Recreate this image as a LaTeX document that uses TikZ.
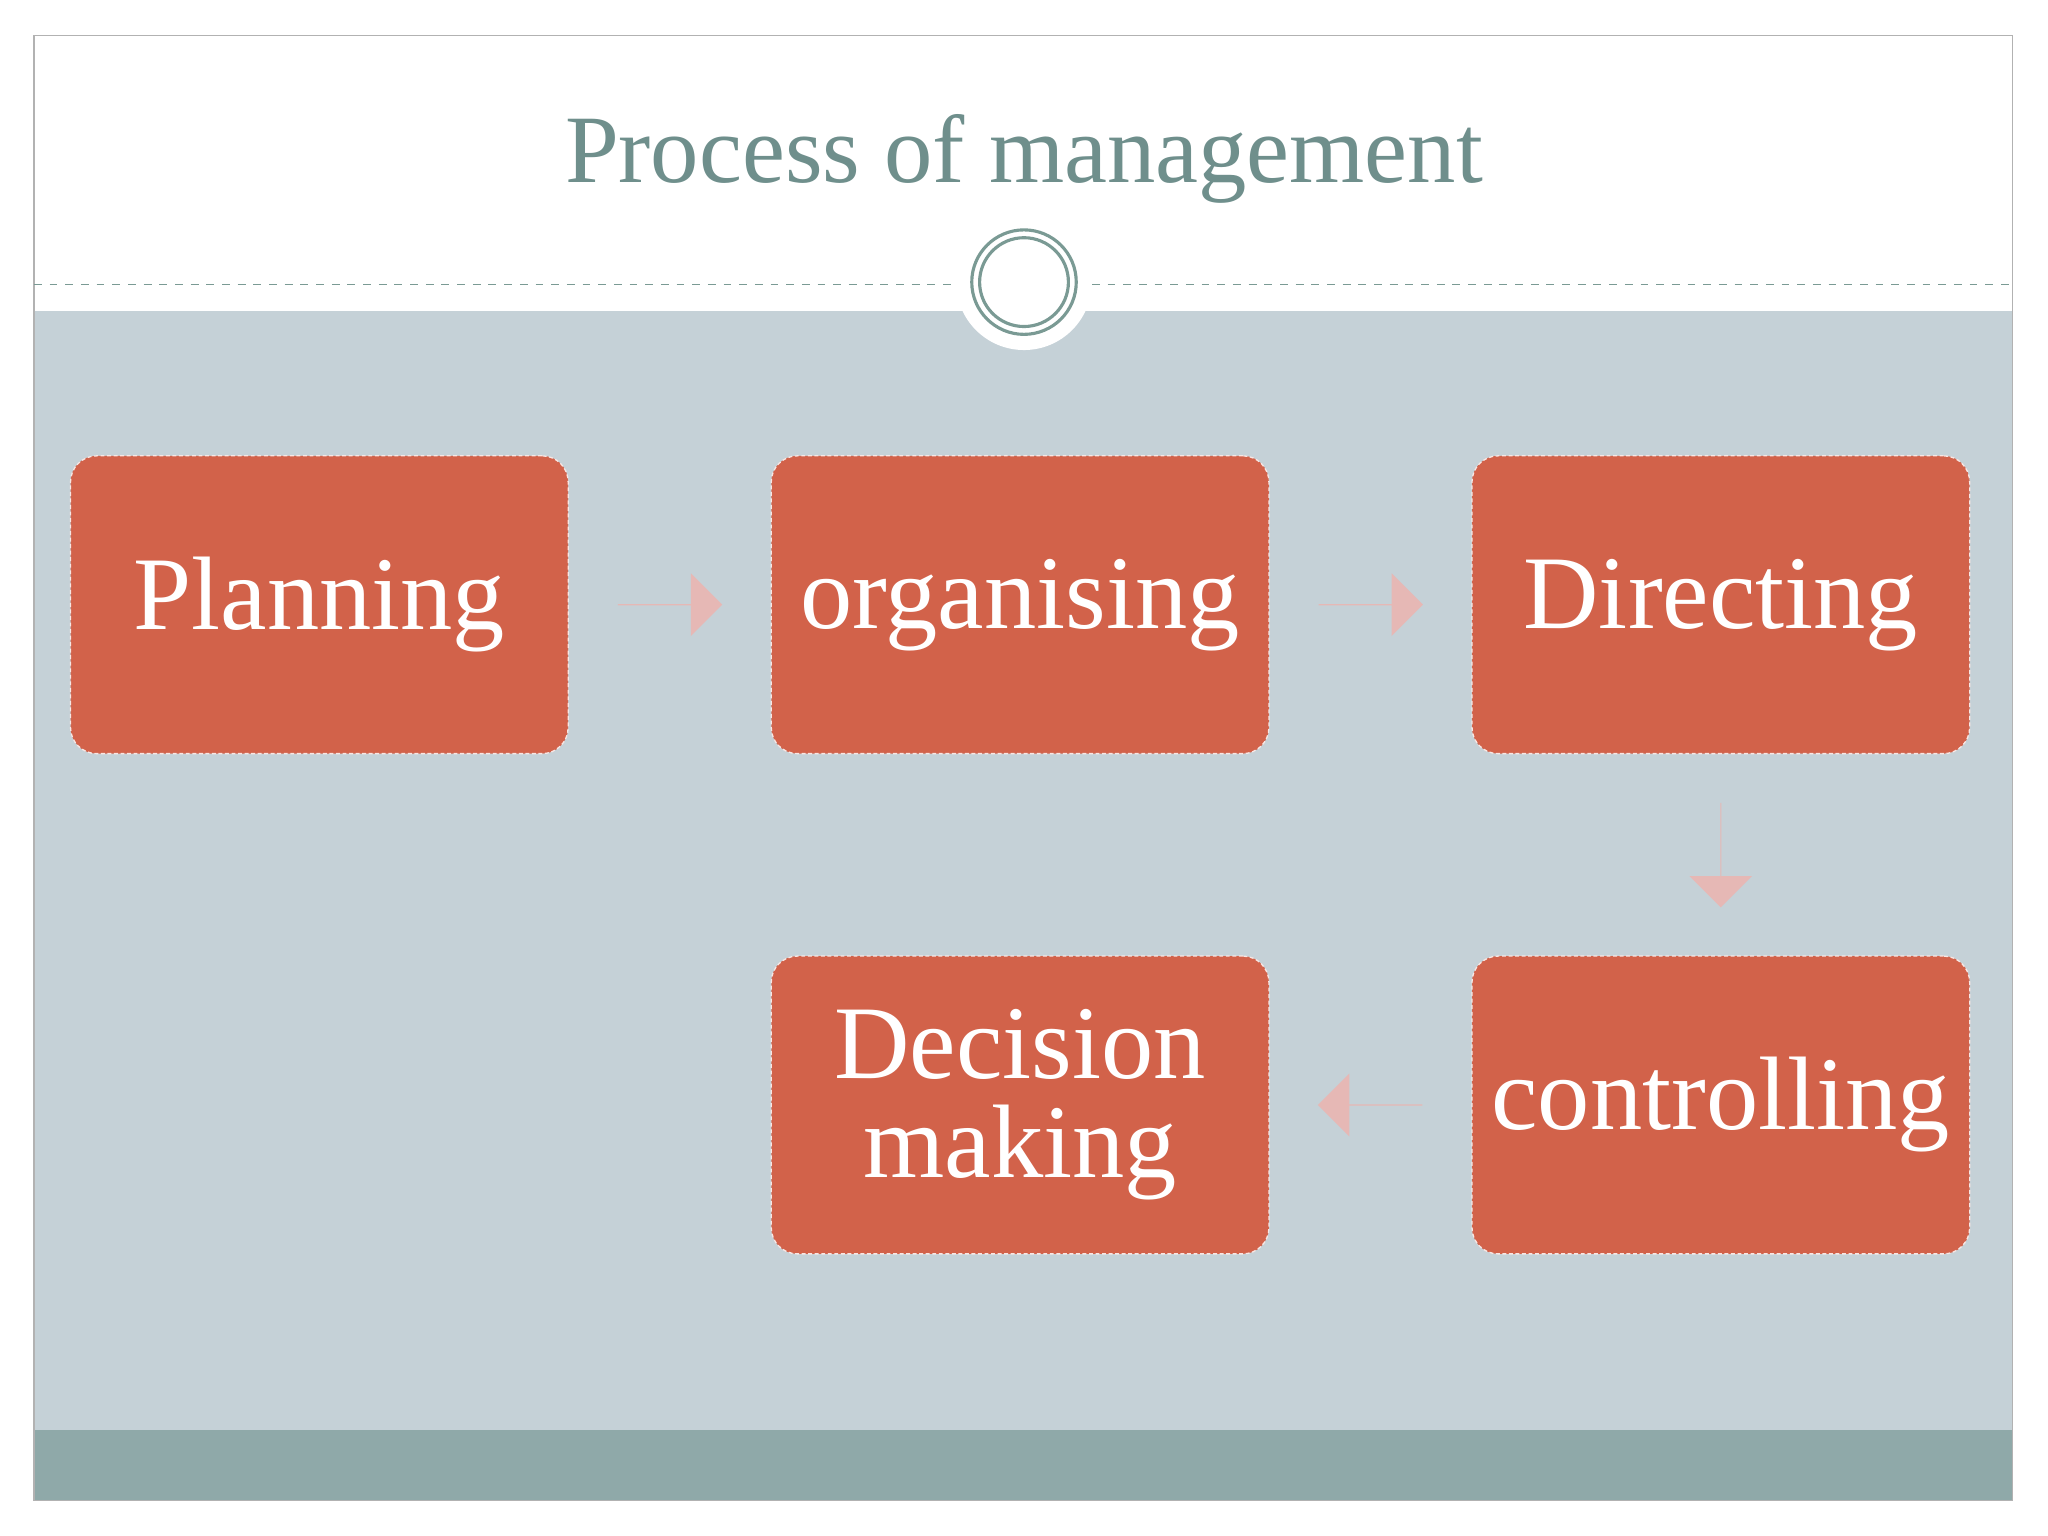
\documentclass[tikz,border=0pt]{standalone}
\usepackage{fontspec}
\setmainfont{Liberation Serif}
\usetikzlibrary{shapes.arrows,calc}
\definecolor{boxc}{HTML}{D2624A}
\definecolor{panel}{HTML}{C5D1D7}
\definecolor{bar}{HTML}{8FA9A9}
\definecolor{ring}{HTML}{7A9A94}
\definecolor{arr}{HTML}{E6B8B5}
\definecolor{titlec}{HTML}{6F8F8C}
\tikzset{
 stepbox/.style={draw=white!85!boxc, dashed, fill=boxc, rounded corners=10pt, minimum width=190.5pt, minimum height=114pt, text=white, font=\fontsize{40}{38}\selectfont, align=center, line width=0.5pt, dash pattern=on 1.5pt off 1pt},
 blk/.style={single arrow, fill=arr, draw=none, minimum height=40pt, minimum width=24pt, single arrow head extend=11pt, inner sep=0pt, single arrow tip angle=90}
}
\begin{document}
\begin{tikzpicture}[x=0.5pt,y=-0.5pt]
\useasboundingbox (0,0) rectangle (1568,1176);
\fill[white] (0,0) rectangle (1568,1176);
\fill[panel] (26,238) rectangle (1541,1095);
\fill[bar] (26,1095) rectangle (1541,1149);
\draw[gray!60, line width=0.5pt] (26,27) rectangle (1541,1149);
\draw[ring, dashed, line width=0.5pt] (26,218) -- (733,218);
\draw[ring, dashed, line width=0.5pt] (836,218) -- (1541,218);
\fill[white] (784,216) circle[radius=26pt];
\draw[ring, line width=1.2pt] (784,216) circle[radius=20pt];
\draw[ring, line width=1.2pt] (784,216) circle[radius=17pt];
\node[text=titlec, font=\fontsize{37}{40}\selectfont] (title) at (784,122) {Process of management};
\node[stepbox] (p) at (244.5,463) {Planning};
\node[stepbox] (o) at (781,463) {organising};
\node[stepbox] (d) at (1317.5,463) {Directing};
\node[stepbox] (dm) at (781,846) {Decision\\making};
\node[stepbox] (c) at (1317.5,846) {controlling};
\node[blk] (a1) at ($(p.east)!0.5!(o.west)$) {};
\node[blk] (a2) at ($(o.east)!0.5!(d.west)$) {};
\node[blk, shape border rotate=270] (a3) at ($(d.south)!0.5!(c.north)$) {};
\node[blk, shape border rotate=180] (a4) at ($(c.west)!0.5!(dm.east)$) {};
\end{tikzpicture}
\end{document}
